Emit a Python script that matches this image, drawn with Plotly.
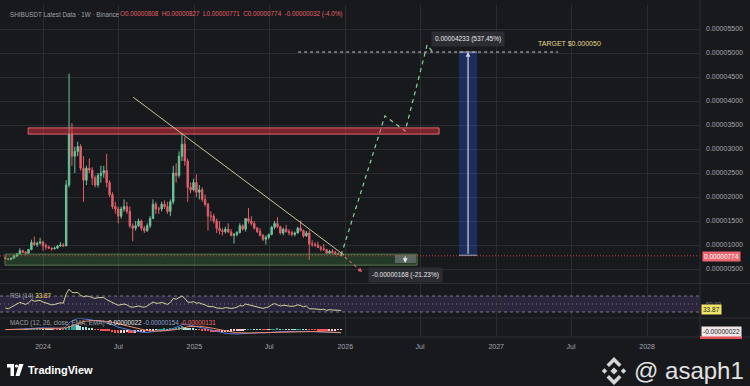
import plotly.graph_objects as go
import pandas as pd
import numpy as np

W, H = 750, 386
BG = "#18191d"
GRID = "#2a2c32"
FONT = "Liberation Sans, Arial, sans-serif"
UP = "#6cc39a"
DN = "#e0606c"

# ---------------- data (weekly candles, values in 1e-8 USDT) ----------------
first_week = "2023-10-02"
opens = [735, 715, 700, 725, 770, 815, 880, 850, 830, 905, 1050, 1010, 1040,
         1065, 985, 960, 935, 920, 935, 980, 1000, 980, 2250, 3300, 2850, 2950,
         3050, 2600, 2350, 2600, 2560, 2400, 2250, 2450, 2500, 2550, 2300, 2050,
         1800, 1750, 1600, 1750, 1800, 1700, 1400, 1350, 1400, 1500, 1350, 1300,
         1400, 1550, 1850, 1750, 1750, 1850, 1800, 1700, 1900, 2500, 2450, 2850,
         3100, 2750, 2200, 2150, 2300, 2100, 2150, 1950, 1850, 1600, 1600, 1500,
         1350, 1300, 1280, 1330, 1270, 1200, 1220, 1260, 1400, 1330, 1550, 1500,
         1450, 1350, 1280, 1200, 1120, 1160, 1220, 1370, 1450, 1380, 1250, 1330,
         1280, 1260, 1220, 1250, 1350, 1300, 1190, 1250, 1020, 1010, 1000, 950,
         920, 900, 830, 870, 840, 810, 808]
highs = [760, 725, 740, 790, 830, 930, 905, 870, 920, 1110, 1175, 1070, 1150,
         1090, 1030, 985, 950, 965, 1000, 1060, 1040, 2350, 4570, 3540, 3050, 3150,
         3100, 2850, 2650, 2800, 2620, 2450, 2500, 2650, 2650, 2900, 2350, 2100,
         1900, 1800, 1800, 1950, 1900, 1800, 1450, 1500, 1550, 1530, 1400, 1450,
         1600, 1950, 1900, 1800, 1900, 1930, 1900, 1950, 2650, 2700, 2950, 3340,
         3250, 2800, 2300, 2380, 2470, 2250, 2200, 2050, 1880, 1700, 1650, 1550,
         1500, 1350, 1380, 1450, 1330, 1250, 1290, 1450, 1430, 1560, 1770, 1600,
         1500, 1380, 1350, 1230, 1200, 1240, 1400, 1500, 1580, 1400, 1360, 1420,
         1330, 1300, 1280, 1380, 1510, 1320, 1290, 1300, 1100, 1060, 1070, 980,
         1020, 920, 900, 910, 880, 850, 827]
lows = [700, 680, 690, 715, 750, 800, 830, 790, 820, 890, 980, 960, 1010,
        880, 900, 920, 880, 910, 920, 960, 960, 975, 2200, 2650, 2500, 2850,
        2550, 1900, 2250, 2500, 2250, 2200, 2200, 2300, 2400, 2200, 2000, 1750,
        1650, 1450, 1550, 1700, 1650, 1350, 1080, 1300, 1380, 1300, 1250, 1270,
        1350, 1550, 1650, 1650, 1700, 1750, 1650, 1600, 1850, 2300, 2400, 2750,
        2650, 1900, 2080, 2120, 2000, 1950, 1900, 1800, 1300, 1500, 1450, 1250,
        1220, 1200, 1240, 1250, 1180, 1030, 1180, 1240, 1300, 1280, 1450, 1400,
        1320, 1250, 1180, 1080, 1010, 1120, 1200, 1330, 1350, 1220, 1200, 1260,
        1200, 1180, 1180, 1240, 1280, 1150, 1170, 690, 960, 960, 940, 870,
        880, 810, 820, 820, 800, 790, 771]
closes = [715, 700, 725, 770, 815, 880, 850, 830, 905, 1050, 1010, 1040, 1065,
          985, 960, 935, 920, 935, 980, 1000, 980, 2250, 3300, 2850, 2950, 3050,
          2600, 2350, 2600, 2560, 2400, 2250, 2450, 2500, 2550, 2300, 2050, 1800,
          1750, 1600, 1750, 1800, 1700, 1400, 1350, 1400, 1500, 1350, 1300, 1400,
          1550, 1850, 1750, 1750, 1850, 1800, 1700, 1900, 2500, 2450, 2850, 3100,
          2750, 2200, 2150, 2300, 2100, 2150, 1950, 1850, 1600, 1600, 1500, 1350,
          1300, 1280, 1330, 1270, 1200, 1220, 1260, 1400, 1330, 1550, 1500, 1450,
          1350, 1280, 1200, 1120, 1160, 1220, 1370, 1450, 1380, 1250, 1330, 1280,
          1260, 1220, 1250, 1350, 1300, 1190, 1250, 1020, 1010, 1000, 950, 920,
          900, 830, 870, 840, 810, 808, 774]
rsi14 = [40, 38, 42, 47, 50, 54, 51, 49, 53, 60, 57, 58, 59,
         55, 52, 50, 48, 49, 51, 53, 52,
         75, 87, 79, 78, 79, 72, 68, 70, 69, 66,
         64, 66, 66, 66, 61, 57, 52, 50, 47, 49,
         50, 48, 43, 42, 43, 45, 43, 42, 45, 49,
         55, 52, 52, 54, 52, 49, 54, 64, 62, 67,
         70, 64, 55, 54, 56, 52, 53, 50, 48, 44,
         44, 43, 40, 40, 39, 41, 40, 39, 40, 42,
         46, 45, 50, 48, 47, 45, 43, 41, 39, 41,
         43, 48, 51, 48, 45, 47, 46, 45, 44, 45,
         48, 46, 43, 45, 38, 38, 38, 37, 36, 37,
         34, 36, 35, 35, 35, 33.87]

price_ticks = [0.000005 * k for k in range(1, 12)]
price_tick_text = ["%.8f" % v for v in price_ticks]
time_ticks = ["2024-01-01", "2024-07-01", "2025-01-01", "2025-07-01", "2026-01-01",
              "2026-07-01", "2027-01-01", "2027-07-01", "2028-01-01"]
time_tick_text = ["2024", "Jul", "2025", "Jul", "2026", "Jul", "2027", "Jul", "2028"]

# drawings (data space)
red_zone_x = ["2023-11-26", "2026-08-16"]
red_zone_y = [0.0000331, 0.0000344]
green_zone_x = ["2023-10-01", "2026-06-24"]
green_zone_y = [0.0000058, 0.0000081]
trend_x = ["2024-08-06", "2025-12-29"]
trend_y = [0.0000408, 0.0000079]
target_x = ["2025-09-09", "2027-05-31"]
target_price = 0.0000502
up_box_x = ["2026-10-03", "2026-11-16", "2026-10-25"]
up_box_y = [0.00000787, 0.0000502]
dn_box_x = ["2026-05-01", "2026-06-21", "2026-05-26"]
dn_box_y = [0.00000623, 0.00000791]
bull_path_x = ["2025-12-22", "2026-04-07", "2026-05-26", "2026-07-18", "2026-07-30"]
bull_path_y = [0.0000079, 0.0000369, 0.00003375, 0.0000517, 0.0000504]
bear_path_x = ["2025-12-31", "2026-02-11"]
bear_path_y = [0.0000075, 0.0000044]
last_price = 0.00000774

# ---------------- derived ----------------
dates = pd.date_range(first_week, periods=len(closes), freq="7D")
o = np.array(opens) * 1e-8
h = np.array(highs) * 1e-8
l = np.array(lows) * 1e-8
c = np.array(closes) * 1e-8
s = pd.Series(c)
macd = s.ewm(span=12, adjust=False).mean() - s.ewm(span=26, adjust=False).mean()
signal = macd.ewm(span=9, adjust=False).mean()
hist = macd - signal
hcol = []
for i, v in enumerate(hist):
    prev = hist.iloc[i - 1] if i > 0 else v
    if v >= 0:
        hcol.append("#26a69a" if v >= prev else "#b2dfdb")
    else:
        hcol.append("#ffcdd2" if v > prev else "#ff5252")


def py(p):
    return 1 - p / H


def pxx(p):
    return p / W


fig = go.Figure()
fig.add_trace(go.Candlestick(
    x=dates, open=o, high=h, low=l, close=c, xaxis="x", yaxis="y",
    increasing=dict(line=dict(color=UP, width=1), fillcolor=UP),
    decreasing=dict(line=dict(color=DN, width=1), fillcolor=DN),
    whiskerwidth=0, hoverinfo="skip", showlegend=False))
fig.add_trace(go.Scatter(x=bull_path_x, y=bull_path_y, mode="lines", xaxis="x", yaxis="y",
                         line=dict(color="#8fd19e", width=1.2, dash="4px,4px"),
                         hoverinfo="skip", showlegend=False))
fig.add_trace(go.Scatter(x=bear_path_x, y=bear_path_y, mode="lines", xaxis="x", yaxis="y",
                         line=dict(color="#e05a64", width=1.2, dash="3px,3px"),
                         hoverinfo="skip", showlegend=False))
fig.add_trace(go.Scatter(x=dates, y=rsi14, mode="lines", xaxis="x", yaxis="y2",
                         line=dict(color="#d6d29c", width=1), hoverinfo="skip",
                         showlegend=False))
fig.add_trace(go.Bar(x=dates, y=hist, marker=dict(color=hcol, line=dict(width=0)),
                     width=7 * 24 * 3600 * 1000 * 0.6, xaxis="x", yaxis="y3",
                     hoverinfo="skip", showlegend=False))
fig.add_trace(go.Scatter(x=dates, y=macd, mode="lines", xaxis="x", yaxis="y3",
                         line=dict(color="#5b7fe0", width=1), hoverinfo="skip",
                         showlegend=False))
fig.add_trace(go.Scatter(x=dates, y=signal, mode="lines", xaxis="x", yaxis="y3",
                         line=dict(color="#f08a6a", width=1), hoverinfo="skip",
                         showlegend=False))

XD = 700 / W
shapes = []
# RSI band + levels
shapes.append(dict(type="rect", xref="paper", yref="y2", x0=0, x1=XD, y0=30, y1=70,
                   fillcolor="rgba(126,87,194,0.2)", line=dict(width=0), layer="below"))
for lv, dsh in [(70, "3px,3px"), (30, "3px,3px"), (50, "1px,3px")]:
    shapes.append(dict(type="line", xref="paper", yref="y2", x0=0, x1=XD, y0=lv, y1=lv,
                       line=dict(color="rgba(190,190,200,0.55)", width=1, dash=dsh)))
# zones
shapes.append(dict(type="rect", xref="x", yref="y", x0=red_zone_x[0], x1=red_zone_x[1],
                   y0=red_zone_y[0], y1=red_zone_y[1], fillcolor="rgba(242,54,69,0.45)",
                   line=dict(color="rgba(240,110,120,0.9)", width=1), layer="above"))
shapes.append(dict(type="rect", xref="x", yref="y", x0=green_zone_x[0], x1=green_zone_x[1],
                   y0=green_zone_y[0], y1=green_zone_y[1], fillcolor="rgba(76,160,70,0.24)",
                   line=dict(color="rgba(110,150,90,0.7)", width=1), layer="above"))
# trendline
shapes.append(dict(type="line", xref="x", yref="y", x0=trend_x[0], x1=trend_x[1],
                   y0=trend_y[0], y1=trend_y[1], line=dict(color="#c9c49a", width=1)))
# target line
shapes.append(dict(type="line", xref="x", yref="y", x0=target_x[0], x1=target_x[1],
                   y0=target_price, y1=target_price,
                   line=dict(color="rgba(225,225,225,0.9)", width=1, dash="3px,3px")))
# current price line
shapes.append(dict(type="line", xref="paper", yref="y", x0=0, x1=XD, y0=last_price, y1=last_price,
                   line=dict(color="rgba(230,70,80,0.85)", width=1, dash="1px,2px")))
# measure boxes
shapes.append(dict(type="rect", xref="x", yref="y", x0=up_box_x[0], x1=up_box_x[1],
                   y0=up_box_y[0], y1=up_box_y[1], fillcolor="rgba(41,98,255,0.28)",
                   line=dict(width=0), layer="above"))
for yy in up_box_y:
    shapes.append(dict(type="line", xref="x", yref="y", x0=up_box_x[0], x1=up_box_x[1],
                       y0=yy, y1=yy, line=dict(color="rgba(200,200,210,0.8)", width=1)))
shapes.append(dict(type="rect", xref="x", yref="y", x0=dn_box_x[0], x1=dn_box_x[1],
                   y0=dn_box_y[0], y1=dn_box_y[1], fillcolor="rgba(160,160,170,0.45)",
                   line=dict(width=0), layer="above"))
# pane separators
for yy in [283.5, 318, 337]:
    shapes.append(dict(type="line", xref="paper", yref="paper", x0=0, x1=1, y0=py(yy), y1=py(yy),
                       line=dict(color="#2c2e35", width=1)))
shapes.append(dict(type="line", xref="paper", yref="paper", x0=XD, x1=XD, y0=py(337), y1=1,
                   line=dict(color="#2c2e35", width=1)))
# MACD value label red strip
shapes.append(dict(type="rect", xref="paper", yref="paper", x0=pxx(700), x1=pxx(742),
                   y0=py(339), y1=py(336), fillcolor="#e0505a", line=dict(width=0)))


def ppath(pts):
    return "M " + " L ".join("%.5f,%.5f" % (pxx(a), py(b)) for a, b in pts) + " Z"


LOGO = "#d6d6d6"
def diamond(cx, cy, r):
    return [(cx - r, cy), (cx, cy - r), (cx + r, cy), (cx, cy + r)]

for pts in [diamond(614, 371, 3.6), diamond(604.5, 371, 2.7), diamond(623.5, 371, 2.7),
            [(614, 357), (621.5, 364.5), (619, 367), (614, 362), (609, 367), (606.5, 364.5)],
            [(614, 385), (621.5, 377.5), (619, 375), (614, 380), (609, 375), (606.5, 377.5)]]:
    shapes.append(dict(type="path", xref="paper", yref="paper", path=ppath(pts),
                       fillcolor=LOGO, line=dict(width=0)))
# TradingView logo
shapes.append(dict(type="path", xref="paper", yref="paper",
                   path=ppath([(7, 364), (14, 364), (14, 376), (10.5, 376), (10.5, 367.5), (7, 367.5)]),
                   fillcolor="#ffffff", line=dict(width=0)))
shapes.append(dict(type="circle", xref="paper", yref="paper", x0=pxx(14.9), x1=pxx(18.1),
                   y0=py(367.6), y1=py(364.4), fillcolor="#ffffff", line=dict(width=0)))
shapes.append(dict(type="path", xref="paper", yref="paper",
                   path=ppath([(19, 364), (23.5, 364), (19.5, 376), (15.5, 376)]),
                   fillcolor="#ffffff", line=dict(width=0)))


def pa(text, x, y, size=6.5, color="#9fa2aa", xanchor="left", yanchor="middle", **kw):
    d = dict(text=text, x=pxx(x), y=py(y), xref="paper", yref="paper", showarrow=False,
             font=dict(size=size, color=color, family=FONT), xanchor=xanchor, yanchor=yanchor)
    d.update(kw)
    return d

RV = "#e2606b"
ann = []
ann.append(pa("SHIBUSDT Latest Data · 1W · Binance", 8, 14, size=6.3))
ann.append(pa("O<span style='color:%s'>0.00000808</span>  H<span style='color:%s'>0.00000827</span>  "
              "L<span style='color:%s'>0.00000771</span>  C<span style='color:%s'>0.00000774</span>  "
              "<span style='color:%s'>-0.00000032 (-4.0%%)</span>" % (RV, RV, RV, RV, RV),
              118, 14, size=6.3, color=RV))
ann.append(pa("RSI (14) <span style='color:#e8d870'>33.87</span>", 8, 296, size=6.3))
ann.append(pa("MACD (12, 26, close, EMA, EMA) <span style='color:#f0f0f0'>-0.00000022</span> "
              "<span style='color:#8ea4d8'>-0.00000154</span> <span style='color:#f06a6a'>-0.00000131</span>",
              8, 323, size=6.3))
ann.append(pa("0.00000774", 721, 256, size=6.5, color="#ffffff", xanchor="center",
              bgcolor="#ec6670", borderpad=1))
ann.append(pa("33.87", 711, 309, size=6.5, color="#1a1a1a", xanchor="center",
              bgcolor="#efe46a", borderpad=1))
ann.append(pa("-0.00000022", 721, 331, size=6.5, color="#222222", xanchor="center",
              bgcolor="#f0e8e8", borderpad=1))
ann.append(pa("<b>TradingView</b>", 26, 370, size=11, color="#ffffff"))
ann.append(pa("@ asaph1", 632, 370, size=24, color="#e2e2e2"))
# data-anchored labels
ann.append(dict(text="0.00004233 (537.45%)", x=up_box_x[2], y=0.0000529, xref="x", yref="y",
                showarrow=False, font=dict(size=6.5, color="#e8e8e8", family=FONT),
                bgcolor="#2c2d33", borderpad=3, xanchor="center", yanchor="middle"))
ann.append(dict(text="-0.00000168 (-21.23%)", x=dn_box_x[2], y=0.00000375, xref="x", yref="y",
                showarrow=False, font=dict(size=6.5, color="#e8e8e8", family=FONT),
                bgcolor="#2c2d33", borderpad=3, xanchor="center", yanchor="middle"))
ann.append(dict(text="TARGET $0.000050", x="2027-04-07", y=0.0000519, xref="x", yref="y",
                showarrow=False, font=dict(size=7, color="#e6dc8c", family=FONT),
                xanchor="left", yanchor="middle"))
ann.append(dict(text="", x=up_box_x[2], y=up_box_y[1], ax=up_box_x[2], ay=up_box_y[0],
                xref="x", yref="y", axref="x", ayref="y", showarrow=True, arrowhead=2,
                arrowsize=0.8, arrowwidth=1.2, arrowcolor="#d0d3da"))
ann.append(dict(text="", x=dn_box_x[2], y=dn_box_y[0], ax=dn_box_x[2], ay=dn_box_y[1],
                xref="x", yref="y", axref="x", ayref="y", showarrow=True, arrowhead=2,
                arrowsize=0.8, arrowwidth=1.2, arrowcolor="#e8e8e8"))
ann.append(dict(text="", x=bear_path_x[1], y=bear_path_y[1], ax=-5, ay=-4,
                xref="x", yref="y", showarrow=True, arrowhead=2,
                arrowsize=0.8, arrowwidth=1.0, arrowcolor="#e05a64"))

tickfont = dict(size=7, color="#a3a6ae", family=FONT)
fig.update_layout(
    width=W, height=H, margin=dict(l=0, r=0, t=0, b=0),
    paper_bgcolor=BG, plot_bgcolor=BG, showlegend=False, bargap=0,
    shapes=shapes, annotations=ann,
    xaxis=dict(domain=[0, XD], type="date", range=["2023-09-19", "2028-05-08"],
               anchor="y3", tickvals=time_ticks, ticktext=time_tick_text, tickfont=tickfont,
               showgrid=True, gridcolor=GRID, gridwidth=1, zeroline=False, showline=False,
               ticks="", ticklabelstandoff=4, rangeslider=dict(visible=False), fixedrange=True),
    yaxis=dict(domain=[py(283), py(5)], range=[0.000002083, 0.00006], side="right",
               anchor="x", tickvals=price_ticks, ticktext=price_tick_text, tickfont=tickfont,
               showgrid=True, gridcolor=GRID, zeroline=False, showline=False, ticks="",
               ticklabelstandoff=5),
    yaxis2=dict(domain=[py(318), py(284)], range=[15, 100], side="right", anchor="x",
                tickvals=[50], ticktext=["50.00"], tickfont=dict(size=6, color="#6f727a", family=FONT),
                showgrid=False, zeroline=False, showline=False, ticks="", ticklabelstandoff=5),
    yaxis3=dict(domain=[py(337), py(318)], range=[-0.0000035, 0.0000055], side="right",
                anchor="x", showticklabels=False, showgrid=False, zeroline=False,
                showline=False, ticks=""),
)
fig.write_html("out.html", config={"displayModeBar": False},
               post_script="document.body.style.margin='0';document.body.style.background='%s';" % BG)
